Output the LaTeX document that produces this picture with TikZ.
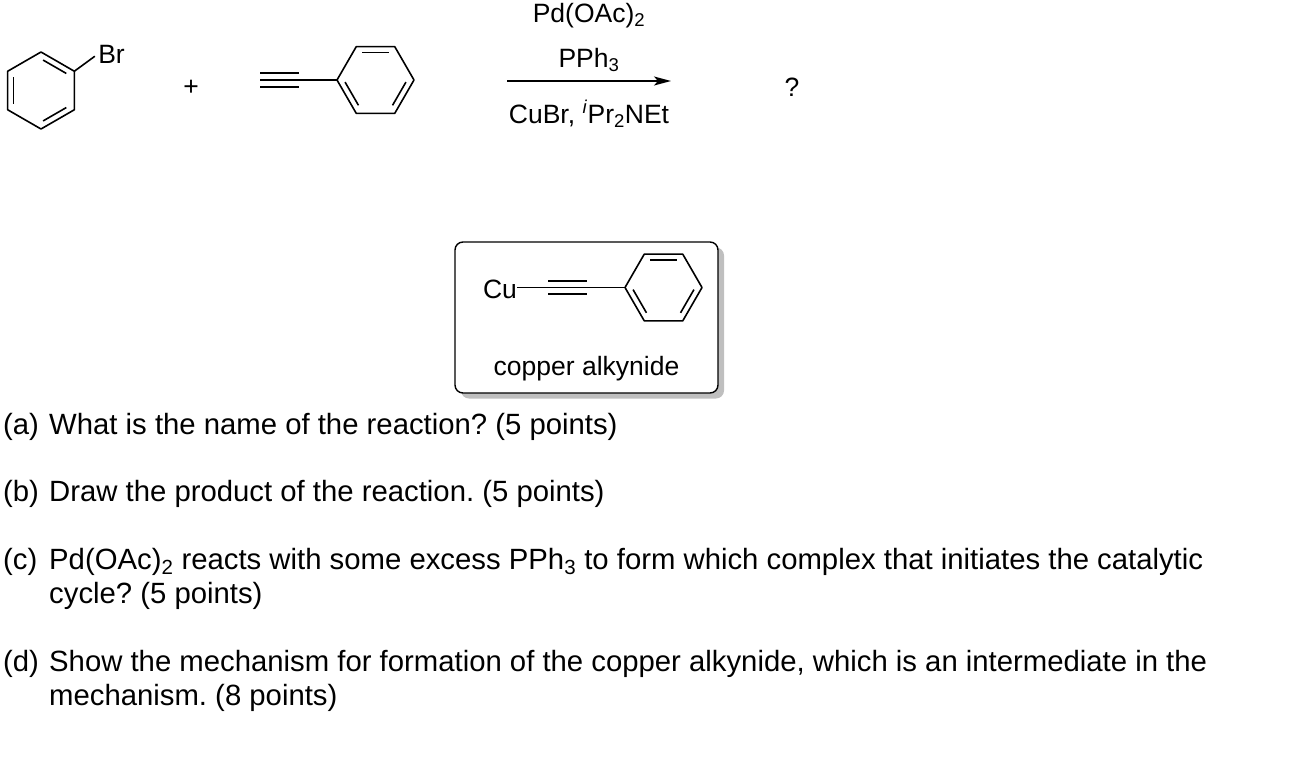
\documentclass[tikz,border=0pt]{standalone}
\usepackage{fontspec}
\setmainfont{Liberation Sans}
\frenchspacing
\usetikzlibrary{arrows.meta, shadows}
\newcommand{\qlabel}[1]{\makebox[46pt][l]{#1}}

\begin{document}
\begin{tikzpicture}[x=1pt, y=-1pt,
bond/.style={line width=1.6pt, black},
chem/.style={font=\fontsize{26.5}{30}\selectfont, inner sep=0pt, anchor=base},
question/.style={font=\fontsize{29.3}{34}\selectfont, inner sep=0pt, anchor=base west},
pics/ring/.style={code={
  \foreach \i in {0,...,5} {\coordinate (-\i) at (#1+\i*60:38.5);}
  \draw[bond, line join=round] (-0) -- (-1) -- (-2) -- (-3) -- (-4) -- (-5) -- cycle;
  \foreach \i in {0,2,4} {\draw[bond] (#1+\i*60+4:30.5) -- (#1+\i*60+56:30.5);}
}}]
\useasboundingbox (0,0) rectangle (1300,766);

%Bromobenzene
\pic (bromo) at (41,90.5) {ring=30};
\node[chem] (br) at (111.5,63) {Br};
\draw[bond, shorten >=4pt] (bromo-5) -- (br.west);
\node[chem] (plus) at (191,95) {+};

%Phenylacetylene
\pic (phenyl) at (375.5,80) {ring=0};
\coordinate (alkA) at (260,80);
\coordinate (alkB) at (299,80);
\draw[bond] (alkA) -- (alkB);
\draw[bond] ([yshift=7pt]alkA) -- ([yshift=7pt]alkB);
\draw[bond] ([yshift=-7pt]alkA) -- ([yshift=-7pt]alkB);
\draw[bond] (alkB) -- (phenyl-3);

%Reagents
\node[chem] (pd) at (589,22) {Pd(OAc)\textsubscript{2}};
\node[chem] (pph) at (589,67) {PPh\textsubscript{3}};
\coordinate (arrowA) at (507,81);
\coordinate (arrowB) at (671,81);
\draw[bond, -{Stealth[length=17pt, width=9pt, inset=4pt]}] (arrowA) -- (arrowB);
\node[chem] (cubr) at (589,123) {CuBr, \textsuperscript{\textit{i}}Pr\textsubscript{2}NEt};
\node[chem] (product) at (792,96) {?};

%Box
\node[draw, line width=1.4pt, rounded corners=8pt, fill=white, minimum width=263pt, minimum height=151pt,
  copy shadow={draw=none, fill=black!25, shadow xshift=6pt, shadow yshift=-5.5pt}] (box) at (586.5,317.5) {};
\node[chem] (cu) at (500,298) {Cu};
\pic (cuphenyl) at (663.5,287.5) {ring=0};
\coordinate (cuA) at (548,287.5);
\coordinate (cuB) at (587,287.5);
\draw[bond] (cu.east |- cuA) -- (cuA) -- (cuB);
\draw[bond] ([yshift=6.5pt]cuA) -- ([yshift=6.5pt]cuB);
\draw[bond] ([yshift=-6.5pt]cuA) -- ([yshift=-6.5pt]cuB);
\draw[bond] (cuB) -- (cuphenyl-3);
\node[chem] (alkynide) at (586.5,375) {copper alkynide};

%Questions
\node[question] (qa) at (3,434) {\qlabel{(a)}What is the name of the reaction? (5 points)};
\node[question] (qb) at (3,501) {\qlabel{(b)}Draw the product of the reaction. (5 points)};
\node[question] (qc) at (3,569) {\qlabel{(c)}Pd(OAc)\textsubscript{2} reacts with some excess PPh\textsubscript{3} to form which complex that initiates the catalytic};
\node[question] (qcb) at (49,603) {cycle? (5 points)};
\node[question] (qd) at (3,671) {\qlabel{(d)}Show the mechanism for formation of the copper alkynide, which is an intermediate in the};
\node[question] (qdb) at (49,705) {mechanism. (8 points)};
\end{tikzpicture}
\end{document}
